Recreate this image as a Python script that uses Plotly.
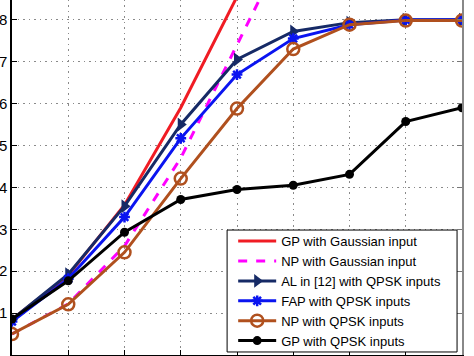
import plotly.graph_objects as go

snr_db = [0, 5, 10, 15, 20, 25, 30, 35, 40]
y_ticks = [0, 1, 2, 3, 4, 5, 6, 7, 8]

gp_gauss = [0.85, 1.9, 3.58, 5.9, 8.55]
np_gauss = [0.5, 1.22, 2.6, 4.7, 7.4, 10.1]
al_qpsk = [0.85, 1.93, 3.55, 5.5, 7.05, 7.72, 7.93, 8.0, 8.0]
fap_qpsk = [0.8, 1.82, 3.29, 5.17, 6.69, 7.55, 7.88, 7.99, 8.0]
np_qpsk = [0.5, 1.21, 2.45, 4.21, 5.88, 7.3, 7.88, 7.98, 7.98]
gp_qpsk = [0.86, 1.77, 2.93, 3.71, 3.95, 4.05, 4.31, 5.57, 5.9]

fig = go.Figure()
fig.add_trace(go.Scatter(x=snr_db[:len(gp_gauss)], y=gp_gauss, mode="lines",
                         name="GP with Gaussian input",
                         line=dict(color="#f01c24", width=3)))
fig.add_trace(go.Scatter(x=snr_db[:len(np_gauss)], y=np_gauss, mode="lines",
                         name="NP with Gaussian input",
                         line=dict(color="#ff00ff", width=3, dash="dash")))
fig.add_trace(go.Scatter(x=snr_db, y=al_qpsk, mode="lines+markers",
                         name="AL in [12] with QPSK inputs",
                         line=dict(color="#162a66", width=3),
                         marker=dict(symbol="triangle-right", size=12, color="#162a66")))
fig.add_trace(go.Scatter(x=snr_db, y=fap_qpsk, mode="lines+markers",
                         name="FAP with QPSK inputs",
                         line=dict(color="#0a14f0", width=3),
                         marker=dict(symbol="asterisk-open", size=9,
                                     line=dict(color="#0a14f0", width=2.5))))
fig.add_trace(go.Scatter(x=snr_db, y=np_qpsk, mode="lines+markers",
                         name="NP with QPSK inputs",
                         line=dict(color="#b0501e", width=3),
                         marker=dict(symbol="circle-open", size=12,
                                     line=dict(color="#b0501e", width=2.5))))
fig.add_trace(go.Scatter(x=snr_db, y=gp_qpsk, mode="lines+markers",
                         name="GP with QPSK inputs",
                         line=dict(color="#000000", width=3),
                         marker=dict(symbol="circle", size=9, color="#000000")))

grid_dash = "1.5px,4px"

# legend frame (white box with black border) drawn above the data
fig.add_shape(type="rect", xref="paper", yref="paper",
              x0=0.478, x1=0.989, y0=0.0085, y1=0.352,
              fillcolor="white", line=dict(color="black", width=1), layer="above")

fig.update_layout(
    width=474, height=356,
    margin=dict(l=12, r=12, t=0, b=1, autoexpand=False),
    paper_bgcolor="white", plot_bgcolor="white",
    font=dict(family="Liberation Sans, Arial, sans-serif", color="black"),
    showlegend=True,
    legend=dict(x=0.4915, y=0.363, xanchor="left", yanchor="top",
                bgcolor="rgba(0,0,0,0)", borderwidth=0,
                font=dict(size=13, color="black"),
                tracegroupgap=0, itemwidth=38),
    xaxis=dict(range=[0, 40], tickvals=snr_db, showticklabels=False,
               automargin=False,
               ticks="inside", ticklen=5, tickcolor="black",
               showline=True, linecolor="black", linewidth=1.5, mirror=False,
               showgrid=True, gridcolor="#8a8a8a", griddash=grid_dash, gridwidth=1,
               zeroline=False),
    yaxis=dict(range=[0, 8.47], tickvals=y_ticks, ticktext=[str(v) for v in y_ticks],
               automargin=False,
               ticks="inside", ticklen=5, tickcolor="black",
               tickfont=dict(size=15, color="black"),
               showline=True, linecolor="black", linewidth=1.5, mirror=False,
               showgrid=True, gridcolor="#8a8a8a", griddash=grid_dash, gridwidth=1,
               zeroline=False),
    yaxis2=dict(range=[0, 8.47], tickvals=y_ticks, overlaying="y", side="right",
                automargin=False,
                showticklabels=False, ticks="inside", ticklen=5, tickcolor="#777777",
                showline=True, linecolor="#888888", linewidth=1.5,
                showgrid=False, zeroline=False),
)
fig.add_trace(go.Scatter(x=[None], y=[None], yaxis="y2", showlegend=False, hoverinfo="skip"))

fig.write_html("out.html", config={"displayModeBar": False},
               post_script="document.body.style.margin='0';document.body.style.padding='0';")
